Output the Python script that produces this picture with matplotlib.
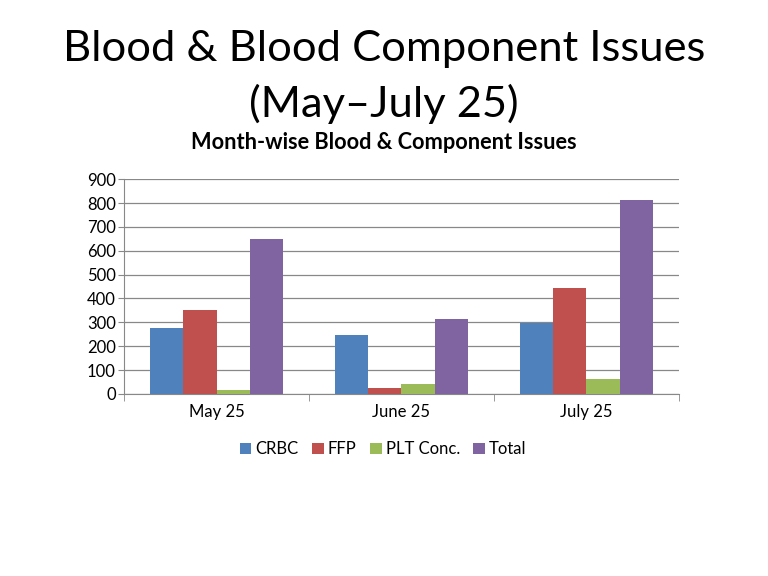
import numpy as np
import matplotlib

matplotlib.use("Agg")
import matplotlib.pyplot as plt

months = ["May 25", "June 25", "July 25"]
series = ["CRBC", "FFP", "PLT Conc.", "Total"]
crbc = [275, 246, 298]
ffp = [351, 25, 444]
plt_conc = [17, 42, 63]
total = [648, 313, 813]
colors = ["#4F81BD", "#C0504D", "#9BBB59", "#8064A2"]

plt.rcParams["font.family"] = ["Lato", "DejaVu Sans"]

fig = plt.figure(figsize=(7.68, 5.76), dpi=100)
fig.text(0.5, 0.915, "Blood & Blood Component Issues", ha="center", va="center", fontsize=31.3)
fig.text(0.5, 0.82, "(May\u2013July 25)", ha="center", va="center", fontsize=31.3)
fig.text(0.4995, 0.752, "Month-wise Blood & Component Issues", ha="center", va="center",
         fontsize=15.7, fontweight="bold")

ax = fig.add_axes([0.1615, 0.316, 0.7225, 0.373])

x = np.arange(len(months))
w = 0.18
for i, (name, vals) in enumerate(zip(series, [crbc, ffp, plt_conc, total])):
    ax.bar(x + (i - 1.5) * w, vals, width=w, color=colors[i], label=name, zorder=3)

ax.set_xlim(-0.5, len(months) - 0.5)
ax.set_ylim(0, 900)
ax.set_yticks(range(0, 901, 100))
ax.grid(axis="y", color="#888888", linewidth=0.9, zorder=0)
ax.set_xticks(x)
ax.set_xticklabels(months, fontsize=12)
ax.set_xticks(np.arange(-0.5, len(months), 1), minor=True)
ax.tick_params(axis="x", which="major", length=0, pad=7)
ax.tick_params(axis="x", which="minor", length=5, color="#888888")
ax.tick_params(axis="y", length=4, color="#888888", labelsize=12, pad=2)
for s in ["top", "right"]:
    ax.spines[s].set_visible(False)
for s in ["left", "bottom"]:
    ax.spines[s].set_color("#888888")

ax.legend(loc="upper center", bbox_to_anchor=(0.467, -0.15), ncol=4, frameon=False,
          fontsize=12, handlelength=0.7, handleheight=0.7, handletextpad=0.25, columnspacing=0.8)

fig.savefig("out.png", dpi=100)
